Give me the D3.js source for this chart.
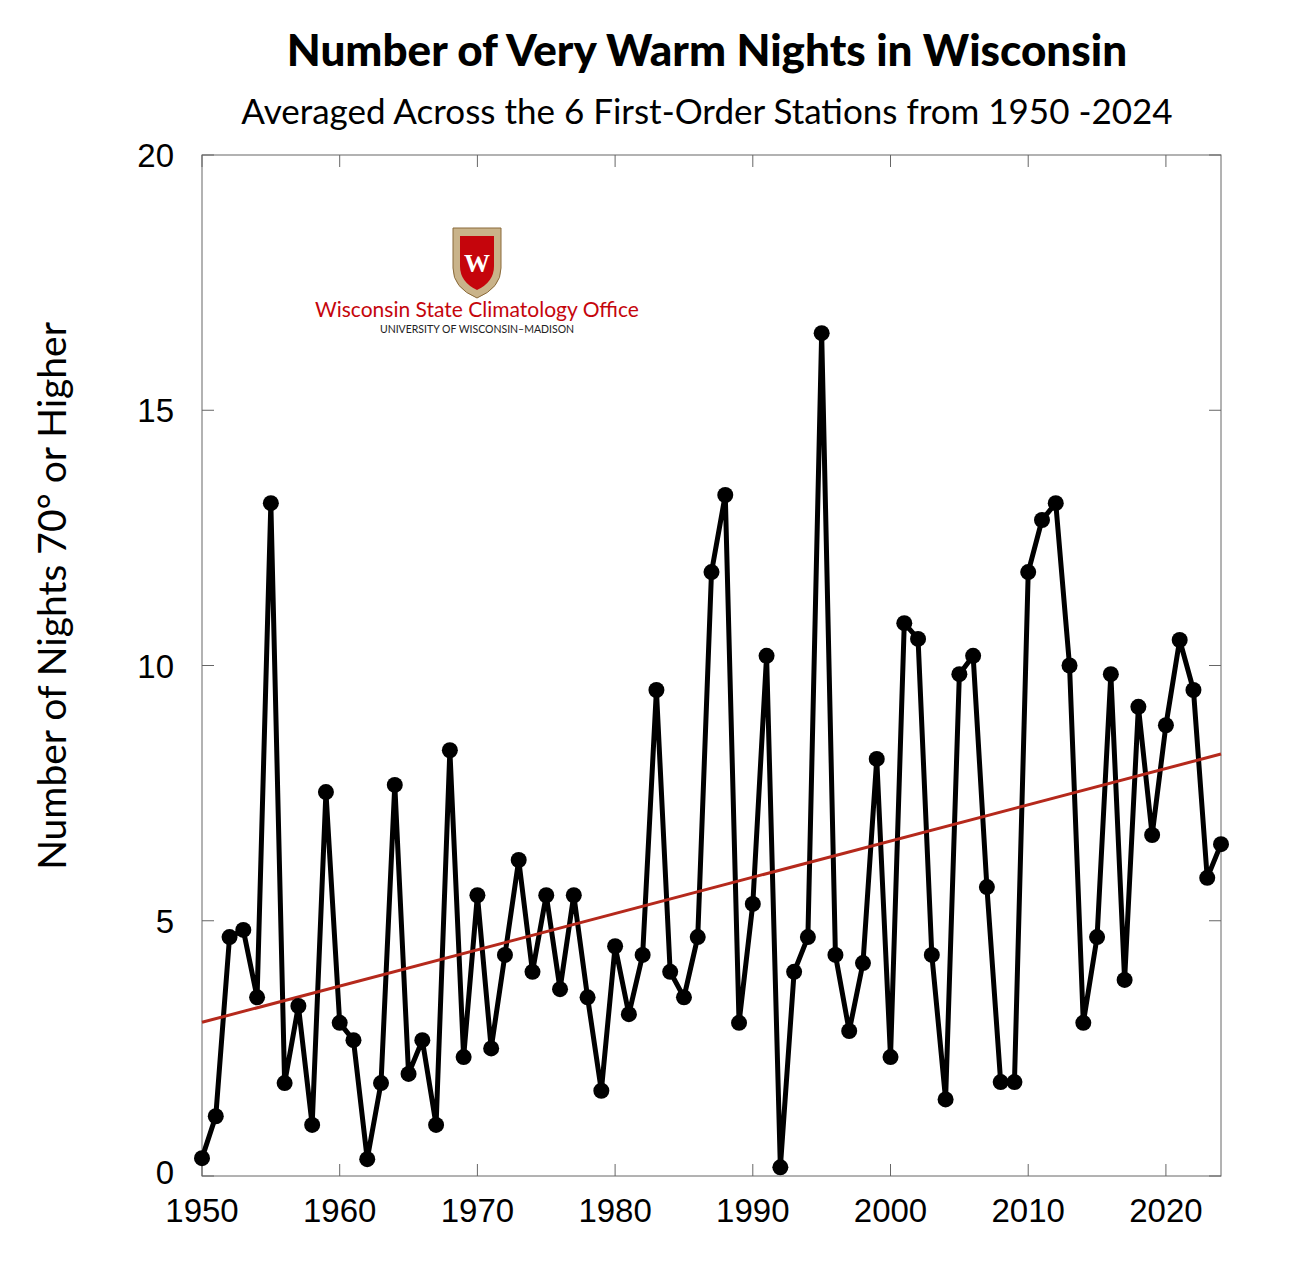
<!DOCTYPE html>
<html><head><meta charset="utf-8">
<script src="https://cdn.jsdelivr.net/npm/d3@7"></script>
<style>body{margin:0;background:#fff}</style></head>
<body><svg id="c" width="1302" height="1268"></svg>
<script>
const years = d3.range(1950, 2025);
const nights = [0.35,1.17,4.68,4.82,3.5,13.18,1.82,3.33,1.0,7.52,
3.0,2.66,0.33,1.82,7.66,2.0,2.66,1.0,8.34,2.33,
5.5,2.5,4.33,6.19,4.0,5.5,3.66,5.5,3.5,1.67,
4.5,3.17,4.33,9.52,4.0,3.5,4.68,11.83,13.34,3.0,
5.33,10.19,0.17,4.0,4.68,16.51,4.33,2.84,4.17,8.17,
2.33,10.83,10.52,4.33,1.5,9.83,10.19,5.66,1.84,1.84,
11.83,12.85,13.18,10.0,3.0,4.68,9.83,3.84,9.19,6.68,
8.83,10.5,9.52,5.84,6.5];
const yTicks = [0,5,10,15,20];
const xTicks = [1950,1960,1970,1980,1990,2000,2010,2020];

const svg = d3.select("#c");
const L=202,R=1221,T=155,B=1176;
const x = d3.scaleLinear().domain([1950,2024]).range([L,R]);
const y = d3.scaleLinear().domain([0,20]).range([B,T]);

svg.append("rect").attr("x",L).attr("y",T).attr("width",R-L).attr("height",B-T)
  .attr("fill","none").attr("stroke","#666").attr("stroke-width",1);

const tl=12;
yTicks.forEach(v=>{
  svg.append("line").attr("x1",L).attr("x2",L+tl).attr("y1",y(v)).attr("y2",y(v)).attr("stroke","#666");
  svg.append("line").attr("x1",R).attr("x2",R-tl).attr("y1",y(v)).attr("y2",y(v)).attr("stroke","#666");
  svg.append("text").attr("x",L-28).attr("y",y(v)+(v===0?8:12)).attr("text-anchor","end")
    .attr("font-family","Liberation Sans, Arial").attr("font-size",33).text(v);
});
xTicks.forEach(v=>{
  svg.append("line").attr("x1",x(v)).attr("x2",x(v)).attr("y1",B).attr("y2",B-tl).attr("stroke","#666");
  svg.append("line").attr("x1",x(v)).attr("x2",x(v)).attr("y1",T).attr("y2",T+tl).attr("stroke","#666");
  svg.append("text").attr("x",x(v)).attr("y",B+46).attr("text-anchor","middle")
    .attr("font-family","Liberation Sans, Arial").attr("font-size",33).text(v);
});

const mx=d3.mean(years), my=d3.mean(nights);
const slope=d3.sum(years,(d,i)=>(d-mx)*(nights[i]-my))/d3.sum(years,d=>(d-mx)**2);
const ic=my-slope*mx;
const data = years.map((d,i)=>[d,nights[i]]);
svg.append("path").datum(data).attr("fill","none").attr("stroke","#000").attr("stroke-width",5)
  .attr("stroke-linejoin","round").attr("d",d3.line().x(d=>x(d[0])).y(d=>y(d[1])));
svg.append("line").attr("x1",x(1950)).attr("y1",y(ic+slope*1950)).attr("x2",x(2024)).attr("y2",y(ic+slope*2024))
  .attr("stroke","#b5291c").attr("stroke-width",3);
svg.selectAll("circle.p").data(data).enter().append("circle")
  .attr("cx",d=>x(d[0])).attr("cy",d=>y(d[1])).attr("r",8).attr("fill","#000");

svg.append("text").attr("x",707).attr("y",66).attr("text-anchor","middle")
  .attr("font-family","Lato, sans-serif").attr("font-weight","900").attr("font-size",44).text("Number of Very Warm Nights in Wisconsin");
svg.append("text").attr("x",707).attr("y",124).attr("text-anchor","middle")
  .attr("font-family","Lato, sans-serif").attr("font-size",35).text("Averaged Across the 6 First-Order Stations from 1950 -2024");
svg.append("text").attr("transform","translate(66,596) rotate(-90)").attr("text-anchor","middle")
  .attr("font-family","Lato, sans-serif").attr("font-size",39).text("Number of Nights 70° or Higher");

const g=svg.append("g").attr("transform","translate(477,262)");
g.append("path").attr("d","M-24,-34 L24,-34 L24,6 Q24,26 0,36 Q-24,26 -24,6 Z").attr("fill","#c9b38a").attr("stroke","#8a6a3a");
g.append("path").attr("d","M-17,-26 L17,-26 L17,4 Q17,20 0,28 Q-17,20 -17,4 Z").attr("fill","#c5050c");
g.append("text").attr("y",10).attr("text-anchor","middle").attr("fill","#fff").attr("font-family","Liberation Serif").attr("font-weight","bold").attr("font-size",26).text("W");
svg.append("text").attr("x",477).attr("y",317).attr("text-anchor","middle").attr("fill","#c5050c")
  .attr("font-family","Lato, sans-serif").attr("font-size",21).text("Wisconsin State Climatology Office");
svg.append("text").attr("x",477).attr("y",333).attr("text-anchor","middle").attr("fill","#222")
  .attr("font-family","Lato, sans-serif").attr("font-size",10.5).text("UNIVERSITY OF WISCONSIN–MADISON");
</script></body></html>
